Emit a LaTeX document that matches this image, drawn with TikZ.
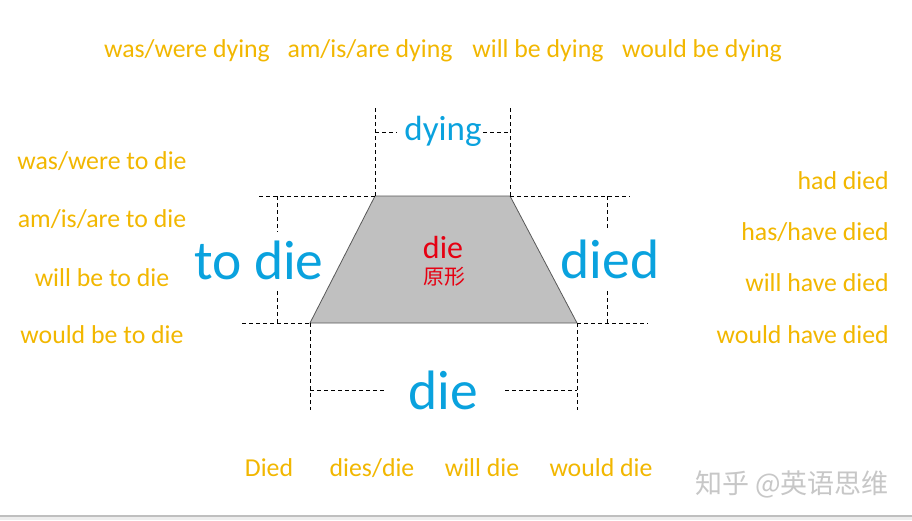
\documentclass[tikz,border=0pt]{standalone}
\usepackage{fontspec}
\setmainfont{Carlito}
\newfontfamily\cjkfont{Noto Sans CJK SC}
\usetikzlibrary{positioning}
\definecolor{formgold}{HTML}{F2B700}
\definecolor{formblue}{HTML}{0AA2DE}
\definecolor{formred}{HTML}{E60012}
\definecolor{trapgray}{HTML}{C0C0C0}
\tikzset{
  tense/.style={inner sep=0pt,text=formgold,font=\fontsize{25.8}{30}\selectfont},
  bigform/.style={inner sep=0pt,text=formblue,font=\fontsize{55.5}{60}\selectfont},
  guide/.style={line width=0.8pt,dash pattern=on 4pt off 3pt},
}

\begin{document}
\begin{tikzpicture}[x=1pt,y=-1pt]
    \useasboundingbox (0,0) rectangle (912,520);
    \fill[white] (0,0) rectangle (912,520);
    \fill[black!7] (0,516) rectangle (912,520);
    \draw[black!25,line width=1.2pt] (0,516) -- (912,516);

    % trapezoid corners
    \coordinate (tl) at (375,196);
    \coordinate (tr) at (510,196);
    \coordinate (bl) at (310,323);
    \coordinate (br) at (577,323);
    \draw[fill=trapgray,draw=black!65,line width=0.8pt] (tl) -- (tr) -- (br) -- (bl) -- cycle;

    % centre text
    \node[inner sep=0pt,text=formred,font=\fontsize{32}{36}\selectfont] (base) at (443,247) {die};
    \node[inner sep=0pt,text=formred,font=\cjkfont\fontsize{21}{24}\selectfont] (basecn) at (444,277) {原形};

    % big forms
    \node[bigform,font=\fontsize{35}{40}\selectfont] (ing) at (443,131) {dying};
    \node[bigform] (inf) at (259,260) {to die};
    \node[bigform] (past) at (610,259) {died};
    \node[bigform] (plain) at (443,390) {die};

    % guide lines
    \draw[guide] (375,108) -- (tl);
    \draw[guide] (510,108) -- (tr);
    \draw[guide] (375,132) -- (397,132);
    \draw[guide] (483,132) -- (510,132);
    \draw[guide] (259,196) -- (tl);
    \draw[guide] (tr) -- (630,196);
    \draw[guide] (242,323) -- (bl);
    \draw[guide] (br) -- (648,323);
    \draw[guide] (277,196) -- (277,232);
    \draw[guide] (277,291) -- (277,323);
    \draw[guide] (607,196) -- (607,228);
    \draw[guide] (607,291) -- (607,323);
    \draw[guide] (bl) -- (310,410);
    \draw[guide] (br) -- (577,410);
    \draw[guide] (310,390) -- (386,390);
    \draw[guide] (505,390) -- (577,390);

    % progressive
    \node[tense] (prog1) at (187,51) {was/were dying};
    \node[tense] (prog2) at (370,51) {am/is/are dying};
    \node[tense] (prog3) at (538,51) {will be dying};
    \node[tense] (prog4) at (702,51) {would be dying};

    % to-infinitive
    \node[tense] (inf1) at (102,161) {was/were to die};
    \node[tense] (inf2) at (102,219) {am/is/are to die};
    \node[tense] (inf3) at (102,278) {will be to die};
    \node[tense] (inf4) at (102,335) {would be to die};

    % perfect
    \node[tense,anchor=east] (perf1) at (889,181) {had died};
    \node[tense,anchor=east] (perf2) at (889,232) {has/have died};
    \node[tense,anchor=east] (perf3) at (889,283) {will have died};
    \node[tense,anchor=east] (perf4) at (889,335) {would have died};

    % simple
    \node[tense] (simp1) at (269,468) {Died};
    \node[tense] (simp2) at (372,468) {dies/die};
    \node[tense] (simp3) at (482,468) {will die};
    \node[tense] (simp4) at (601,468) {would die};

    \node[inner sep=0pt,anchor=east,text=black!22,font=\cjkfont\fontsize{27}{30}\selectfont] (mark) at (889,484) {知乎 @英语思维};
\end{tikzpicture}
\end{document}
